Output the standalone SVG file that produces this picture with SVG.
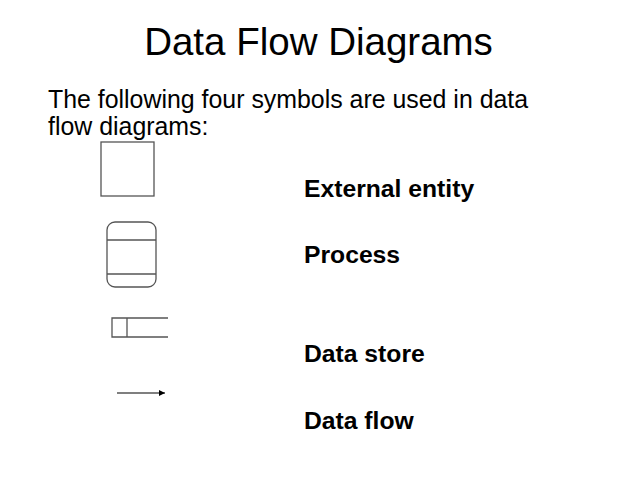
<svg xmlns="http://www.w3.org/2000/svg" width="638" height="478" viewBox="0 0 638 478">
<style>
text{font-family:"Liberation Sans",Arial,sans-serif;fill:#000}
.title{font-size:38.5px;text-anchor:middle}
.body{font-size:24.9px}
.lbl{font-size:24.7px;font-weight:bold}
.sym{fill:none;stroke:#555;stroke-width:1.3}
</style>
<defs>
<marker id="ah" markerWidth="8" markerHeight="8" refX="6" refY="3" orient="auto" markerUnits="userSpaceOnUse">
<path d="M0,0 L6,3 L0,6 Z" fill="#000"/>
</marker>
</defs>
<rect width="638" height="478" fill="#fff"/>
<text class="title" x="318.5" y="55">Data Flow Diagrams</text>
<text class="body" x="48" y="108">The following four symbols are used in data</text>
<text class="body" x="48" y="135">flow diagrams:</text>
<g id="external-entity">
<rect class="sym" x="101" y="142" width="53" height="54"/>
<text class="lbl" x="304" y="197">External entity</text>
</g>
<g id="process">
<rect class="sym" x="107" y="222" width="49" height="65" rx="8" ry="8"/>
<line class="sym" x1="107" y1="240" x2="156" y2="240"/>
<line class="sym" x1="107" y1="274" x2="156" y2="274"/>
<text class="lbl" x="304" y="263">Process</text>
</g>
<g id="data-store">
<path class="sym" d="M168,318 H112 V337 H168 M127,318 V337"/>
<text class="lbl" x="304" y="362">Data store</text>
</g>
<g id="connectors">
<line x1="117" y1="393" x2="165" y2="393" stroke="#555" stroke-width="1.3" marker-end="url(#ah)"/>
</g>
<g id="data-flow">
<text class="lbl" x="304" y="429">Data flow</text>
</g>
</svg>
